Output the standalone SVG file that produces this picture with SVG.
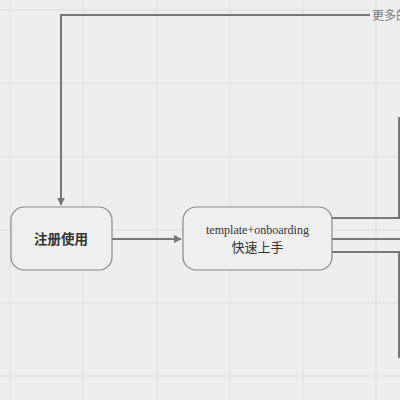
<svg xmlns="http://www.w3.org/2000/svg" width="400" height="400" viewBox="0 0 400 400">
<defs>
<style>
.grid{stroke:#e4e4e4;stroke-width:1.5}
.conn{stroke:#777;stroke-width:2;fill:none}
.node rect{fill:#efefef;stroke:#8a8a8a;stroke-width:1.2}
.cjk{font-family:"Noto Sans CJK SC",sans-serif}
.serif{font-family:"Liberation Serif","Noto Sans CJK SC",serif}
</style>
<marker id="ah" viewBox="0 0 10 10" refX="9" refY="5" markerWidth="4" markerHeight="4" orient="auto">
<path d="M0,0 L10,5 L0,10 z" fill="#777"/>
</marker>
</defs>
<rect width="400" height="400" fill="#eeeeee"/>
<g id="grid">
<path class="grid" d="M10,0V400M83,0V400M157,0V400M230,0V400M303,0V400M376,0V400M0,10H400M0,83H400M0,157H400M0,230H400M0,303H400M0,376H400"/>
</g>
<g id="connectors">
<path class="conn" d="M370,15 H61 V205" marker-end="url(#ah)"/>
<path class="conn" d="M112,239 H181" marker-end="url(#ah)"/>
<path class="conn" d="M332,218 H399 V117"/>
<path class="conn" d="M332,239 H400"/>
<path class="conn" d="M332,252 H399 V358"/>
</g>
<g id="label-more">
<text x="372" y="19.5" class="cjk" font-size="12" fill="#777">更多的</text>
</g>
<g id="node-register" class="node">
<rect x="11" y="207" width="101" height="63" rx="13"/>
<text x="61" y="244" text-anchor="middle" class="cjk" font-size="13.5" font-weight="bold" fill="#333">注册使用</text>
</g>
<g id="node-template" class="node">
<rect x="183" y="207" width="149" height="63" rx="13"/>
<text x="206" y="234" class="serif" font-size="13.5" fill="#333" textLength="103" lengthAdjust="spacingAndGlyphs">template+onboarding</text>
<text x="257.5" y="252" text-anchor="middle" class="serif" font-size="13" fill="#333">快速上手</text>
</g>
</svg>
